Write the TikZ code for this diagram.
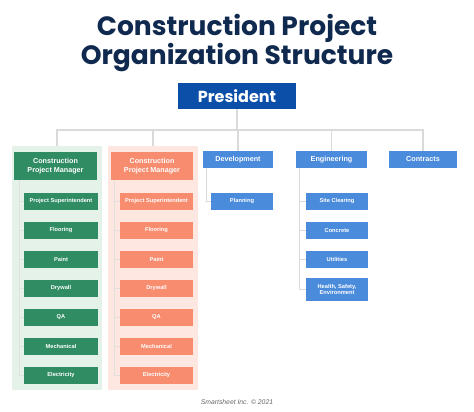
\documentclass[tikz,border=0pt]{standalone}
\usepackage{fontspec}
\setmainfont{Liberation Sans}
\newfontfamily\headfont{Poppins}
\usetikzlibrary{calc}
\definecolor{Navy}{RGB}{16,41,79}
\definecolor{Pres}{RGB}{12,79,168}
\definecolor{B4}{RGB}{74,139,219}
\definecolor{G4}{RGB}{47,140,99}
\definecolor{S4}{RGB}{248,140,111}
\definecolor{GP}{RGB}{229,242,233}
\definecolor{SP}{RGB}{254,231,224}
\definecolor{L4}{RGB}{218,218,218}

\begin{document}
\begin{tikzpicture}[x=1pt,y=-1pt,
    box/.style={text=white, inner sep=0pt, align=center, font=\bfseries\fontsize{5.7}{6.6}\selectfont},
    head/.style={box, font=\bfseries\fontsize{7.2}{8.6}\selectfont},
    panel/.style={inner sep=0pt, minimum width=90, minimum height=244},
    link/.style={draw=L4, line width=1.3pt},
    sublink/.style={draw=black!12, line width=1pt}]
      \useasboundingbox (0,0) rectangle (474,412);
      % title
      \node[text=Navy, align=center, font=\headfont\bfseries\fontsize{26.5}{28.5}\selectfont] (title) at (237,43) {Construction Project\\Organization Structure};
      \node[fill=Pres, text=white, minimum width=118, minimum height=26, inner sep=0pt, font=\headfont\bfseries\fontsize{16}{18}\selectfont] (pres) at (237,96) {President};
      % panels
      \node[panel, fill=GP] (gpanel) at (57,268) {};
      \node[panel, fill=SP] (spanel) at (153,268) {};
      % heads
      \node[head, fill=G4, minimum width=83, minimum height=28] (gm) at (55.5,166) {Construction\\Project Manager};
      \node[head, fill=S4, minimum width=82, minimum height=28] (sm) at (152,166) {Construction\\Project Manager};
      \node[head, fill=B4, minimum width=70, minimum height=17] (dev) at (238,159.5) {Development};
      \node[head, fill=B4, minimum width=71, minimum height=17] (eng) at (331.5,159.5) {Engineering};
      \node[head, fill=B4, minimum width=68, minimum height=17] (con) at (423,159.5) {Contracts};
      % tree top
      \coordinate (bus) at (237,130);
      \draw[link] (pres.south) -- (bus);
      \draw[link] (gpanel.north) |- (bus) -| (con.north);
      \draw[link] (spanel.north) -- (spanel.north |- bus);
      \draw[link] (eng.north) -- (eng.north |- bus);
      \draw[link] (dev.north) -- (dev.north |- bus);
      % development
      \node[box, fill=B4, minimum width=62, minimum height=17] (plan) at (242,201.5) {Planning};
      \draw[link] ($(dev.south west)+(4,0)$) |- (plan.west);
      % engineering
      \foreach \i/\t/\h in {0/Site Clearing/17, 1/Concrete/17, 2/Utilities/17} {
        \node[box, fill=B4, minimum width=62, minimum height=\h] (esub\i) at (337,201.5+29*\i) {\t};
        \draw[link] ($(eng.south west)+(4,0)$) |- (esub\i.west);
      }
      \node[box, fill=B4, minimum width=62, minimum height=23] (esub3) at (337,289.5) {Health, Safety,\\Environment};
      \draw[link] ($(eng.south west)+(4,0)$) |- (esub3.west);
      % project managers
      \foreach \i/\t in {0/Project Superintendent, 1/Flooring, 2/Paint, 3/Drywall, 4/QA, 5/Mechanical, 6/Electricity} {
        \node[box, fill=G4, minimum width=74, minimum height=17.5] (gsub\i) at (61,201.5+29*\i) {\t};
        \node[box, fill=S4, minimum width=73, minimum height=17.5] (ssub\i) at (156.5,201.5+29*\i) {\t};
        \draw[sublink] ($(gm.south west)+(6,0)$) |- (gsub\i.west);
        \draw[sublink] ($(sm.south west)+(4,0)$) |- (ssub\i.west);
      }
      \node[text=black!60, font=\itshape\fontsize{6.8}{8}\selectfont] (foot) at (237,402) {Smartsheet Inc. © 2021};
    \end{tikzpicture}
\end{document}
